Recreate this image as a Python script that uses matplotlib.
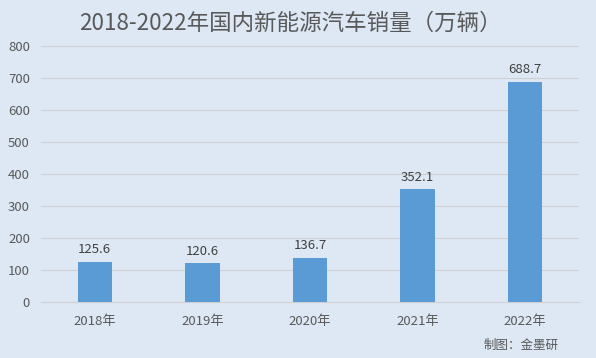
import matplotlib.pyplot as plt

plt.rcParams['font.family'] = ['Noto Sans CJK SC', 'DejaVu Sans']

years = ['2018年', '2019年', '2020年', '2021年', '2022年']
sales = [125.6, 120.6, 136.7, 352.1, 688.7]
yticks = [0, 100, 200, 300, 400, 500, 600, 700, 800]

bg = '#dde8f4'
txt = '#595959'

fig = plt.figure(figsize=(5.96, 3.58), dpi=100, facecolor=bg)
ax = fig.add_axes([41 / 596, 1 - 302 / 358, 538 / 596, 256 / 358], facecolor=bg)

x = range(len(years))
bars = ax.bar(x, sales, width=0.32, color='#5b9bd5', zorder=3)
for xi, v in zip(x, sales):
    ax.text(xi, v + 18, f'{v:.1f}', ha='center', va='bottom', fontsize=9.5, color='#404040')

ax.set_xlim(-0.5, len(years) - 0.5)
ax.set_ylim(0, 800)
ax.set_yticks(yticks)
ax.set_yticklabels([str(t) for t in yticks], fontsize=9.5, color=txt)
ax.set_xticks(list(x))
ax.set_xticklabels(years, fontsize=9.5, color=txt)
ax.grid(axis='y', color='#d0d0d0', linewidth=0.8, zorder=0)
ax.tick_params(length=0, pad=8)
ax.tick_params(axis='x', pad=9)
for s in ['top', 'right', 'left']:
    ax.spines[s].set_visible(False)
ax.spines['bottom'].set_color('#d0d0d0')

fig.text(290 / 596, 1 - 23 / 358, '2018-2022年国内新能源汽车销量（万辆）', ha='center', va='center',
         fontsize=16.2, color=txt)
fig.text(484 / 596, 1 - 345 / 358, '制图：金墨研', ha='left', va='center', fontsize=9, color=txt)

fig.savefig('out.png', dpi=100, facecolor=bg)
